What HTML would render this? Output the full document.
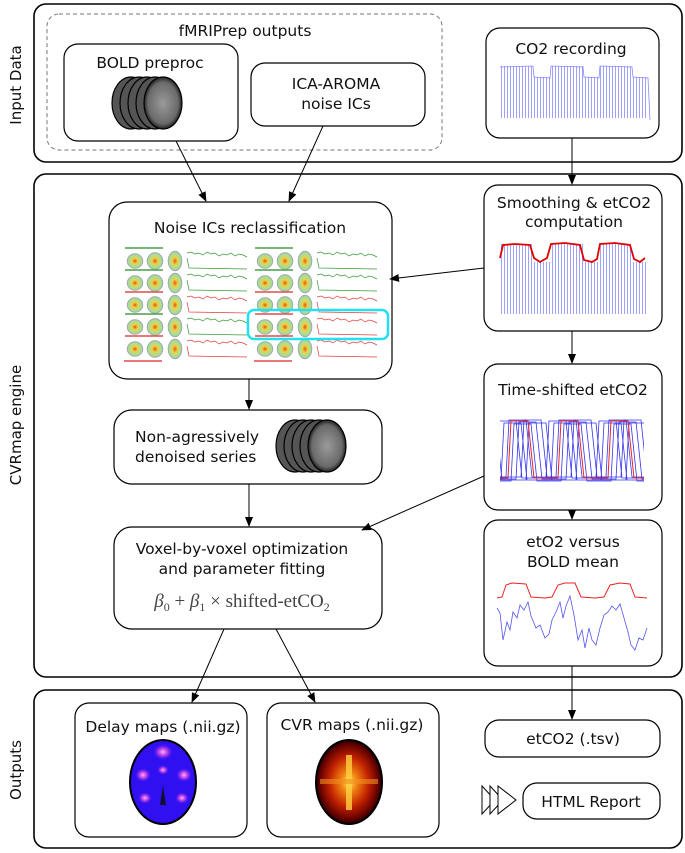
<!DOCTYPE html>
<html><head><meta charset="utf-8"><style>
html,body{margin:0;padding:0;background:#fff;}
svg{display:block;font-family:"DejaVu Sans","Liberation Sans",sans-serif;}
</style></head><body>
<svg width="685" height="853" viewBox="0 0 685 853" xmlns="http://www.w3.org/2000/svg">
<defs>
<marker id="ar" markerWidth="10" markerHeight="10" refX="9" refY="5" orient="auto" markerUnits="userSpaceOnUse"><path d="M0,1 L10,5 L0,9 z" fill="#000"/></marker>
<radialGradient id="mri" cx="0.5" cy="0.5" r="0.5"><stop offset="0" stop-color="#9a9a9a"/><stop offset="0.8" stop-color="#6a6a6a"/><stop offset="1" stop-color="#222"/></radialGradient>
<radialGradient id="cvr" cx="0.5" cy="0.5" r="0.5"><stop offset="0" stop-color="#ffe060"/><stop offset="0.25" stop-color="#f08010"/><stop offset="0.6" stop-color="#c02000"/><stop offset="0.9" stop-color="#600000"/><stop offset="1" stop-color="#200000"/></radialGradient>
<radialGradient id="mag" cx="0.5" cy="0.5" r="0.5"><stop offset="0" stop-color="#ffb0ff"/><stop offset="0.5" stop-color="#d040e0" stop-opacity="0.8"/><stop offset="1" stop-color="#4020ff" stop-opacity="0"/></radialGradient>
<radialGradient id="ica" cx="0.5" cy="0.5" r="0.5"><stop offset="0" stop-color="#e05020"/><stop offset="0.35" stop-color="#f0d040"/><stop offset="0.8" stop-color="#a0e0a0"/><stop offset="1" stop-color="#aaa"/></radialGradient>
<pattern id="vl" width="3" height="200" patternUnits="userSpaceOnUse"><rect x="0" y="0" width="0.7" height="200" fill="#7777ff"/></pattern>
<clipPath id="tc"><rect x="500" y="410" width="144" height="80"/></clipPath>
<path id="sqw" d="M400,478 L403,421 L420,421 L426,478 L450,478 L453,421 L470,421 L476,478 L500,478 L503,421 L520,421 L526,478 L550,478 L553,421 L570,421 L576,478 L600,478 L603,421 L620,421 L626,478 L650,478 L653,421 L670,421 L676,478 L700,478"/>
<g id="brow">
<ellipse cx="0" cy="11" rx="8" ry="7.5" fill="url(#ica)" stroke="#999" stroke-width="0.5"/>
<ellipse cx="20" cy="11" rx="8" ry="8.5" fill="url(#ica)" stroke="#999" stroke-width="0.5"/>
<ellipse cx="40" cy="11" rx="7" ry="10" fill="url(#ica)" stroke="#999" stroke-width="0.5"/>
<rect x="-10" y="-3" width="38" height="2" fill="currentColor" opacity="0.7"/>
<polyline fill="none" stroke="currentColor" stroke-width="0.7" points="52,3 56,2 60,4 64,3 68,5 72,2 76,4 80,3 84,6 88,4 92,5 96,3 100,6 104,4 108,5 112,7"/>
<polyline fill="none" stroke="currentColor" stroke-width="0.7" points="52,8 54,18 112,19"/>
</g>
</defs>
<g fill="none" stroke="#000" stroke-width="1.6">
<rect x="34" y="4" width="648" height="158" rx="12"/>
<rect x="34" y="174" width="648" height="503" rx="12"/>
<rect x="34" y="690" width="648" height="158" rx="12"/>
</g>
<rect x="47" y="14" width="395" height="136" rx="12" fill="none" stroke="#777" stroke-width="1" stroke-dasharray="4,3"/>
<g fill="#fff" stroke="#000" stroke-width="1.2">
<rect x="64" y="44" width="174" height="97" rx="14"/>
<rect x="251" y="63" width="174" height="63" rx="14"/>
<rect x="486" y="28" width="173" height="110" rx="14"/>
<rect x="109" y="202" width="283" height="177" rx="18"/>
<rect x="484" y="185" width="178" height="146" rx="14"/>
<rect x="114" y="410" width="268" height="74" rx="18"/>
<rect x="484" y="364" width="178" height="146" rx="14"/>
<rect x="114" y="527" width="268" height="102" rx="18"/>
<rect x="484" y="520" width="178" height="146" rx="14"/>
<rect x="75" y="703" width="172" height="134" rx="14"/>
<rect x="267" y="703" width="172" height="134" rx="14"/>
<rect x="485" y="720" width="175" height="37" rx="14"/>
<rect x="523" y="783" width="137" height="36" rx="14"/>
</g>
<g font-size="15.5" text-anchor="middle" fill="#111">
<text x="245" y="36">fMRIPrep outputs</text>
<text x="150" y="68">BOLD preproc</text>
<text x="336" y="89">ICA-AROMA</text>
<text x="336" y="109">noise ICs</text>
<text x="571" y="54">CO2 recording</text>
<text x="250" y="233">Noise ICs reclassification</text>
<text x="574" y="208">Smoothing &amp; etCO2</text>
<text x="574" y="227">computation</text>
<text x="573" y="395">Time-shifted etCO2</text>
<text x="573" y="547">etO2 versus</text>
<text x="573" y="567">BOLD mean</text>
<text x="242" y="554">Voxel-by-voxel optimization</text>
<text x="242" y="574">and parameter fitting</text>
<text x="163" y="732">Delay maps (.nii.gz)</text>
<text x="352" y="730">CVR maps (.nii.gz)</text>
<text x="573" y="744">etCO2 (.tsv)</text>
<text x="591" y="807">HTML Report</text>
<text x="135" y="442" text-anchor="start">Non-agressively</text>
<text x="135" y="462" text-anchor="start">denoised series</text>
</g>
<text x="242" y="607" font-family="'Liberation Serif',serif" font-size="19" text-anchor="middle" fill="#444"><tspan font-style="italic">β</tspan><tspan font-size="12" dy="4">0</tspan><tspan dy="-4"> + </tspan><tspan font-style="italic">β</tspan><tspan font-size="12" dy="4">1</tspan><tspan dy="-4"> × shifted-etCO</tspan><tspan font-size="12" dy="4">2</tspan></text>
<g font-size="15" fill="#111" text-anchor="middle">
<text transform="translate(21,85) rotate(-90)">Input Data</text>
<text transform="translate(21,425) rotate(-90)">CVRmap engine</text>
<text transform="translate(21,770) rotate(-90)">Outputs</text>
</g>
<g stroke="#000" stroke-width="1" marker-end="url(#ar)">
<line x1="176" y1="141" x2="206" y2="201"/>
<line x1="323" y1="126" x2="289" y2="201"/>
<line x1="572" y1="138" x2="572" y2="184"/>
<line x1="484" y1="268" x2="390" y2="279"/>
<line x1="572" y1="331" x2="572" y2="363"/>
<line x1="572" y1="510" x2="572" y2="519"/>
<line x1="249" y1="379" x2="249" y2="409"/>
<line x1="249" y1="484" x2="249" y2="526"/>
<line x1="484" y1="476" x2="362" y2="530"/>
<line x1="224" y1="629" x2="192" y2="702"/>
<line x1="276" y1="629" x2="315" y2="702"/>
<line x1="572" y1="666" x2="572" y2="719"/>
</g>
<g fill="#fff" stroke="#000" stroke-width="1">
<path d="M482,786 L495,800 L482,814 z"/><path d="M490,786 L503,800 L490,814 z"/><path d="M498,786 L516,800 L498,814 z"/>
</g>
<g stroke="#000" stroke-width="1.2">
<ellipse cx="131" cy="103" rx="19" ry="26" fill="#555"/><ellipse cx="139" cy="103" rx="19" ry="26" fill="#555"/><ellipse cx="147" cy="103" rx="19" ry="26" fill="#555"/><ellipse cx="155" cy="103" rx="19" ry="26" fill="#555"/><ellipse cx="163" cy="103" rx="19" ry="26" fill="url(#mri)"/>
<ellipse cx="295" cy="446" rx="19" ry="26" fill="#555"/><ellipse cx="303" cy="446" rx="19" ry="26" fill="#555"/><ellipse cx="311" cy="446" rx="19" ry="26" fill="#555"/><ellipse cx="319" cy="446" rx="19" ry="26" fill="#555"/><ellipse cx="327" cy="446" rx="19" ry="26" fill="url(#mri)"/>
</g>
<ellipse cx="163" cy="782" rx="33" ry="42" fill="#3010f0" stroke="#000" stroke-width="2"/>
<ellipse cx="163" cy="752" rx="10" ry="8" fill="url(#mag)"/><ellipse cx="143" cy="775" rx="8" ry="7" fill="url(#mag)"/><ellipse cx="184" cy="775" rx="8" ry="7" fill="url(#mag)"/><ellipse cx="145" cy="798" rx="7" ry="6" fill="url(#mag)"/><ellipse cx="182" cy="798" rx="7" ry="6" fill="url(#mag)"/><ellipse cx="163" cy="770" rx="6" ry="5" fill="url(#mag)"/>
<path d="M163,785 L160,805 L166,805 z" fill="#101030"/>
<ellipse cx="349" cy="782" rx="33" ry="42" fill="url(#cvr)" stroke="#000" stroke-width="2"/>
<rect x="346" y="755" width="6" height="55" fill="#ffd040" opacity="0.8"/>
<rect x="320" y="779" width="58" height="5" fill="#f09020" opacity="0.6"/>
<!-- CO2 recording -->
<rect x="500" y="77" width="148" height="41" fill="url(#vl)"/>
<rect x="500" y="66" width="33" height="11" fill="url(#vl)"/><rect x="550" y="66" width="33" height="11" fill="url(#vl)"/><rect x="599" y="66" width="33" height="11" fill="url(#vl)"/>
<polyline fill="none" stroke="#8888ff" stroke-width="0.8" points="500,67 533,66 534,77 550,78 551,66 583,67 584,77 599,78 600,66 632,67 633,77 648,78 650,120"/>
<!-- smoothing -->
<rect x="500" y="262" width="148" height="52" fill="url(#vl)"/>
<rect x="500" y="244" width="33" height="18" fill="url(#vl)"/><rect x="550" y="244" width="33" height="18" fill="url(#vl)"/><rect x="599" y="244" width="33" height="18" fill="url(#vl)"/>
<polyline fill="none" stroke="#e00000" stroke-width="1.8" points="500,258 503,245 515,244 530,245 534,258 540,262 547,258 551,244 565,243 580,245 584,260 592,262 597,259 600,244 615,243 630,245 634,259 640,262 645,258"/>
<g clip-path="url(#tc)" fill="none" stroke="#3333ee" stroke-width="0.8">
<use href="#sqw" transform="translate(-4,0)"/>
<use href="#sqw" transform="translate(1,2)"/>
<use href="#sqw" transform="translate(6,-1)"/>
<use href="#sqw" transform="translate(11,3)"/>
<use href="#sqw" transform="translate(16,1)"/>
<use href="#sqw" transform="translate(21,-1)"/>
<use href="#sqw" transform="translate(26,2)"/>
<use href="#sqw" transform="translate(8,0)" stroke="#ee2222" stroke-width="1"/>
</g>
<polyline fill="none" stroke="#ee2222" stroke-width="1" points="497,598 502,597 506,585 512,583 526,584 531,597 545,598 552,597 558,585 565,583 575,583 581,597 595,598 604,597 610,585 620,583 630,584 635,597 647,598"/>
<polyline fill="none" stroke="#5555ee" stroke-width="0.8" points="497,608 500,613 503,640 507,622 510,630 513,612 517,618 520,605 524,610 528,602 531,616 536,628 540,625 545,638 549,634 552,620 556,612 560,602 563,618 566,606 570,596 574,615 578,640 582,630 585,648 589,628 592,640 596,645 600,628 604,615 608,612 612,606 616,610 620,604 624,618 628,632 631,645 635,650 639,638 643,640 647,628"/>
<use href="#brow" x="135" y="250" color="#3a9a3a"/>
<use href="#brow" x="135" y="272" color="#3a9a3a"/>
<use href="#brow" x="135" y="294" color="#e04040"/>
<use href="#brow" x="135" y="316" color="#3a9a3a"/>
<use href="#brow" x="135" y="338" color="#e04040"/>
<use href="#brow" x="265" y="250" color="#3a9a3a"/>
<use href="#brow" x="265" y="272" color="#3a9a3a"/>
<use href="#brow" x="265" y="294" color="#e04040"/>
<use href="#brow" x="265" y="316" color="#e04040"/>
<use href="#brow" x="265" y="338" color="#e04040"/>
<rect x="124" y="360" width="38" height="2" fill="#e04040" opacity="0.7"/>
<rect x="254" y="360" width="38" height="2" fill="#e04040" opacity="0.7"/>
<rect x="248" y="310" width="140" height="29" rx="6" fill="none" stroke="#22e0f0" stroke-width="2.5"/>
</svg>
</body></html>
